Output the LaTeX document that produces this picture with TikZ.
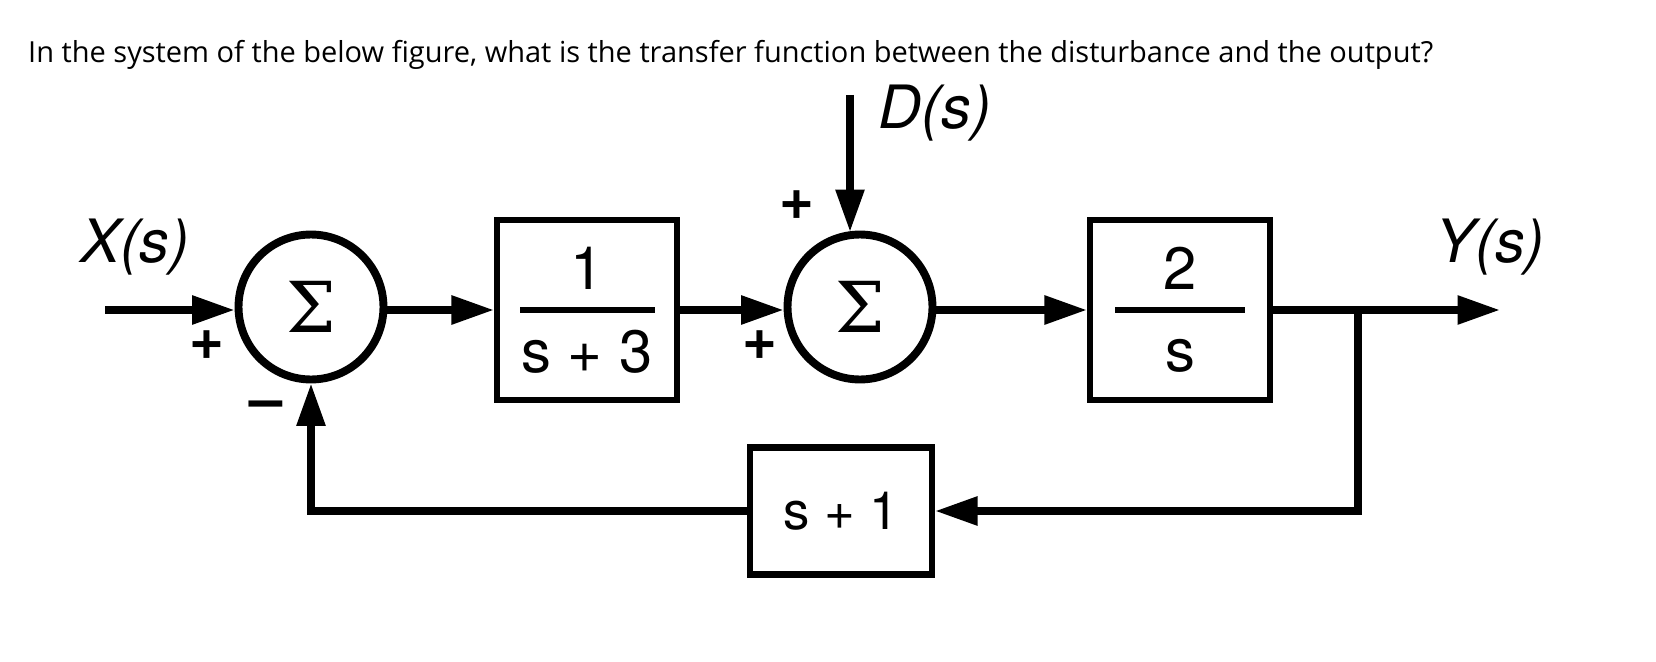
\documentclass[tikz,border=0pt]{standalone}
\usepackage{fontspec}
\setmainfont{TeX Gyre Heros}
\newfontfamily\titlefont{Open Sans}
\newfontfamily\sigfont{DejaVu Serif}
\usetikzlibrary{arrows.meta}
\begin{document}
\begin{tikzpicture}[x=0.02cm,y=-0.02cm,
  wire/.style={line width=4.2pt,-{Triangle[length=0.85cm,width=0.55cm]}},
  blk/.style={draw,line width=3.5pt,rectangle,minimum width=3.6cm,minimum height=3.6cm,inner sep=0pt,font=\fontsize{30}{32}\selectfont},
  sumn/.style={draw,line width=4.5pt,circle,minimum size=2.9cm,inner sep=0pt,font=\sigfont\fontsize{40}{42}\selectfont},
  lbl/.style={font=\fontsize{34}{36}\selectfont},
  sgn/.style={font=\fontsize{34}{36}\selectfont\bfseries}]
\node[anchor=west,font=\titlefont\fontsize{16.5}{19}\selectfont] (title) at (22,55) {In the system of the below figure, what is the transfer function between the disturbance and the output?};
\node[sumn] (s1) at (311,307) {Σ};
\node[blk] (b1) at (587,310) {};
\node[lbl] (n1) at (587,268) {1};
\draw[line width=3pt] (520,310) -- (655,310);
\node[lbl] (d1) at (587,352) {s + 3};
\node[sumn] (s2) at (860,307) {Σ};
\node[blk] (b2) at (1180,310) {};
\node[lbl] (n2) at (1180,268) {2};
\draw[line width=3pt] (1115,310) -- (1245,310);
\node[lbl] (d2) at (1180,356) {s};
\node[blk,minimum width=3.64cm,minimum height=2.54cm] (fb) at (841,511) {s + 1};
\coordinate (xin) at (105,310);
\coordinate (yout) at (1500,310);
\coordinate (br) at (1358,310);
\coordinate (brd) at (1358,511);
\coordinate (fbl) at (311,511);
\coordinate (dtop) at (850,95);
\draw[wire] (xin) -- (s1.west |- xin);
\draw[wire] (s1.east |- 0,310) -- (b1.west |- 0,310);
\draw[wire] (b1.east |- 0,310) -- (s2.west |- 0,310);
\draw[wire] (s2.east |- 0,310) -- (b2.west |- 0,310);
\draw[wire] (b2.east |- 0,310) -- (yout);
\draw[wire] (br) -- (brd) -- (fb.east);
\draw[wire] (fb.west) -- (fbl) -- (s1.south);
\draw[wire] (dtop) -- (850,232);
\node[lbl] (xl) at (135,247) {\itshape X(s)};
\node[lbl] (yl) at (1490,247) {\itshape Y(s)};
\node[lbl] (dl) at (935,113) {\itshape D(s)};
\node[sgn] (p1) at (207,345) {+};
\node[sgn] (m1) at (266,410) {--};
\node[sgn] (p2) at (797,205) {+};
\node[sgn] (p3) at (760,345) {+};
\pgfresetboundingbox
\useasboundingbox (0,0) rectangle (1656,662);
\end{tikzpicture}
\end{document}
